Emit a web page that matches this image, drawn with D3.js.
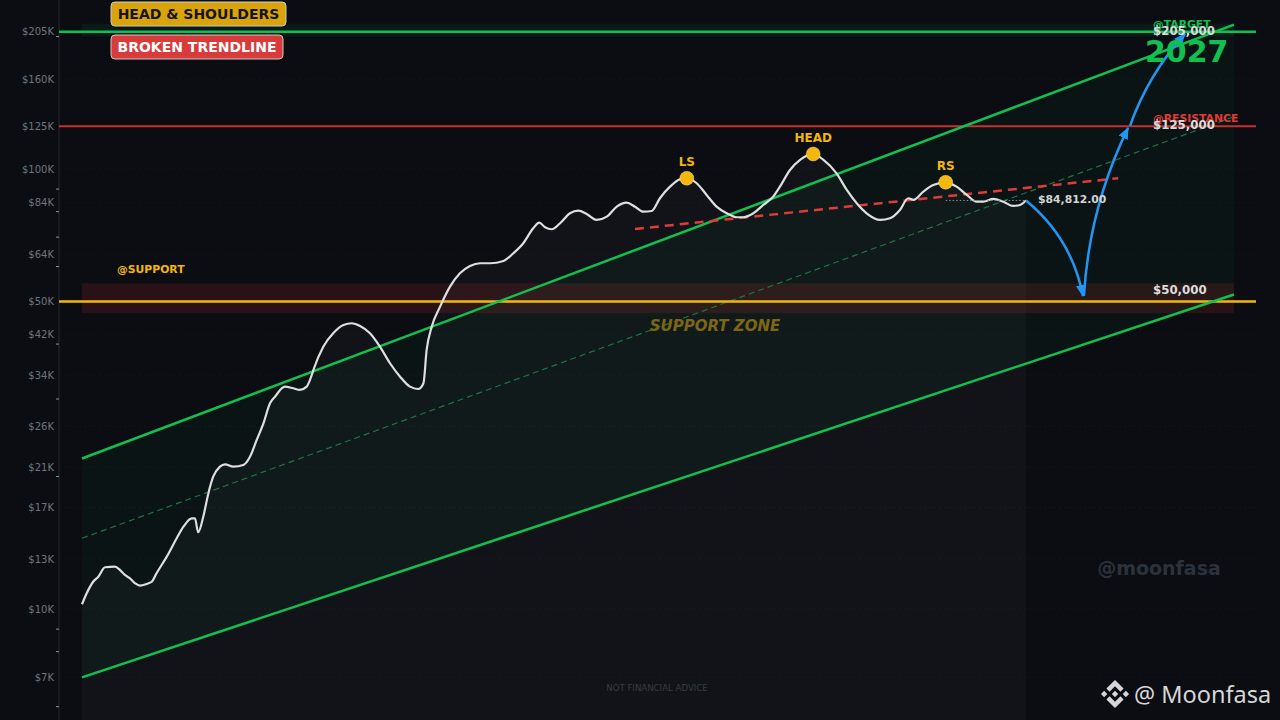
<!DOCTYPE html>
<html><head><meta charset="utf-8">
<script src="https://cdn.jsdelivr.net/npm/d3@7"></script>
<style>html,body{margin:0;padding:0;background:#0b0d12;overflow:hidden}svg{display:block}</style>
</head><body>
<svg id="chart" width="1280" height="720"></svg>
<script>
// ---------- data ----------
const weeks = [0,1.5,3.5,5.1,7.2,10.3,11.9,13.4,15,16.6,18.1,20.2,21.8,23.3,26.5,29.6,31.7,34.3,35.3,36.3,37.9,39.5,41,43.1,44.7,47.3,50.4,52.5,54.6,56.7,58.75,60.3,63.4,66,68.1,70.2,71.8,72.3,75.4,78.5,81.7,84.3,86.9,90,93.1,96.25,99.4,102.5,105.1,106.7,107.7,109.3,111.9,115,118.1,121.25,124.4,127.5,131.7,134.8,137.9,141,142.9,144.7,146.8,149.4,152.5,155.1,157.7,160.8,164,167.1,170.2,172.8,175.4,178,180.6,183.75,186.9,189,192.1,195.2,198.3,201.5,204.6,206.7,209.8,212.9,216,218.1,221.25,224.4,228.5,231.7,235.8,239,242.1,245.2,249.4,252.5,255.6,258.2,259.8,262.9,266,269.9,273.3,276.5,279.6,281.7,284.8,287.9,291,293.1,295];
const prices = [10250,10870,11530,11840,12440,12480,12260,11950,11740,11440,11300,11400,11530,12060,13150,14480,15380,16070,16070,14940,16210,18330,19980,21060,21320,21060,21250,22190,24220,26420,29340,30370,32010,31740,31460,32010,34020,34930,39460,42330,44200,44600,43980,42330,39460,36180,33720,32010,31620,32580,38780,43820,48650,54010,57940,60190,61050,61050,61790,64330,67790,73330,75500,73710,72940,75270,79310,80400,79020,76580,77910,82100,83830,82100,79970,80270,85790,91150,94760,95260,92800,87280,82100,79310,77670,77670,79310,82830,86510,91150,99480,104820,108170,104820,97770,89600,83570,79310,76580,77260,80690,85790,85030,88800,91970,93270,91150,87280,84270,84270,85470,84270,82400,82830,84812];
const lastPrice = 84812;

const yTickValues = [7000,10000,13000,17000,21000,26000,34000,42000,50000,64000,84000,100000,125000,160000,205000];
const yTickLabels = ["$7K","$10K","$13K","$17K","$21K","$26K","$34K","$42K","$50K","$64K","$84K","$100K","$125K","$160K","$205K"];

const channelWeeks = [0, 360];
const upperChannel = [21980, 212900];
const lowerChannel = [6990, 51850];
const midChannel = [14480, 131500];

const trendWeeks = [172.8, 323.8];
const trendPrices = [73050, 95260];

const patternLabels = ["LS", "HEAD", "RS"];
const patternWeeks = [189, 228.5, 269.9];
const patternPrices = [95260, 108170, 93270];

const arrowStartWeeks = [295, 313.1, 327.5];
const arrowStartPrices = [84812, 51440, 125300];
const arrowEndWeeks = [312.8, 326.9, 344.7];
const arrowEndPrices = [51440, 124000, 202700];

const levelValues = [205000, 125000, 50000];
const levelTags = ["@TARGET", "@RESISTANCE", ""];
const levelTexts = ["$205,000", "$125,000", "$50,000"];

const targetZone = [200000, 214000];
const supportZone = [47000, 55000];
const zoneWeeks = [0, 360];

// ---------- setup ----------
const W = 1280, H = 720;
const plotLeft = 59, plotRight = 1256;
const svg = d3.select("#chart");
const FONT = "DejaVu Sans, sans-serif";
const green = "#12c052", red = "#c8302f", gold = "#f3b70c", blue = "#2196f3";

const x = d3.scaleLinear().domain([0, 360]).range([82, 1234]);
const y = d3.scaleLog().domain([5594, 242100]).range([H, 0]);

svg.append("rect").attr("width", W).attr("height", H).attr("fill", "#0b0d12");

// area under price
const pts = weeks.map((w, i) => [w, prices[i]]);
svg.append("path")
  .attr("d", d3.area().x(d => x(d[0])).y0(H).y1(d => y(d[1])).curve(d3.curveMonotoneX)(pts))
  .attr("fill", "#ffffff").attr("fill-opacity", 0.026);

// channel fill
const chan = channelWeeks.map((w, i) => ({w, lo: lowerChannel[i], hi: upperChannel[i]}));
svg.append("path")
  .attr("d", d3.area().x(d => x(d.w)).y0(d => y(d.lo)).y1(d => y(d.hi))(chan))
  .attr("fill", green).attr("fill-opacity", 0.045);

// zones
[[targetZone, green, 0.07], [supportZone, "#d33232", 0.15]].forEach(([z, c, a]) => {
  svg.append("rect")
    .attr("x", x(zoneWeeks[0])).attr("width", x(zoneWeeks[1]) - x(zoneWeeks[0]))
    .attr("y", y(z[1])).attr("height", y(z[0]) - y(z[1]))
    .attr("fill", c).attr("fill-opacity", a);
});

// grid lines at major ticks
svg.append("g").selectAll("line").data(yTickValues).join("line")
  .attr("x1", plotLeft).attr("x2", plotRight)
  .attr("y1", d => y(d)).attr("y2", d => y(d))
  .attr("stroke", "#ffffff").attr("stroke-opacity", 0.035)
  .attr("stroke-dasharray", "2,3");

// y axis
const yAxis = d3.axisLeft(y).tickValues(yTickValues)
  .tickFormat((d, i) => yTickLabels[i]).tickSize(0).tickPadding(5);
const gy = svg.append("g").attr("transform", `translate(${plotLeft},0)`).call(yAxis);
gy.select(".domain").attr("stroke", "#252a32").attr("d", `M0,0V${H}`);
gy.selectAll("text").attr("fill", "#6e7580").attr("font-family", FONT).attr("font-size", 10);
// minor ticks
const minor = y.ticks(30).filter(v => !yTickValues.some(t => Math.abs(t - v) < 1));
svg.append("g").selectAll("line").data(minor).join("line")
  .attr("x1", plotLeft - 3).attr("x2", plotLeft)
  .attr("y1", d => y(d)).attr("y2", d => y(d))
  .attr("stroke", "#8a919b").attr("stroke-width", 1);

// middle dashed channel line
svg.append("line")
  .attr("x1", x(channelWeeks[0])).attr("x2", x(channelWeeks[1]))
  .attr("y1", y(midChannel[0])).attr("y2", y(midChannel[1]))
  .attr("stroke", "#1f7340").attr("stroke-width", 1.2).attr("stroke-dasharray", "6,4");

// level lines
const levelColors = [green, red, gold];
const levelWidths = [2.5, 2, 2.5];
levelValues.forEach((v, i) => {
  svg.append("line").attr("x1", plotLeft).attr("x2", plotRight)
    .attr("y1", y(v)).attr("y2", y(v))
    .attr("stroke", levelColors[i]).attr("stroke-width", levelWidths[i]);
});

// channel lines
[upperChannel, lowerChannel].forEach(arr => {
  svg.append("line")
    .attr("x1", x(channelWeeks[0])).attr("x2", x(channelWeeks[1]))
    .attr("y1", y(arr[0])).attr("y2", y(arr[1]))
    .attr("stroke", green).attr("stroke-width", 2.5);
});

// broken trendline
svg.append("line")
  .attr("x1", x(trendWeeks[0])).attr("x2", x(trendWeeks[1]))
  .attr("y1", y(trendPrices[0])).attr("y2", y(trendPrices[1]))
  .attr("stroke", "#e03a3a").attr("stroke-width", 2.5).attr("stroke-dasharray", "9,6");

// price line
svg.append("path")
  .attr("d", d3.line().x(d => x(d[0])).y(d => y(d[1])).curve(d3.curveMonotoneX)(pts))
  .attr("fill", "none").attr("stroke", "#dedede").attr("stroke-width", 2.2)
  .attr("stroke-linejoin", "round");

// dotted last price line
svg.append("line")
  .attr("x1", x(patternWeeks[2])).attr("x2", x(weeks[weeks.length - 1]))
  .attr("y1", y(lastPrice)).attr("y2", y(lastPrice))
  .attr("stroke", "#8a8f96").attr("stroke-width", 1).attr("stroke-dasharray", "1.5,2");

// pattern markers
patternLabels.forEach((lab, i) => {
  const cx = x(patternWeeks[i]), cy = y(patternPrices[i]);
  svg.append("circle").attr("cx", cx).attr("cy", cy).attr("r", 7)
    .attr("fill", "#f4b70b").attr("stroke", "#ffffff").attr("stroke-opacity", 0.4).attr("stroke-width", 0.8);
  svg.append("text").attr("x", cx).attr("y", cy - 12).attr("text-anchor", "middle")
    .attr("font-family", FONT).attr("font-weight", "bold").attr("font-size", 12)
    .attr("fill", gold).text(lab);
});

// arrows
const defs = svg.append("defs");
defs.append("marker").attr("id", "ah").attr("viewBox", "0 0 12 10")
  .attr("refX", 11).attr("refY", 5).attr("markerWidth", 12).attr("markerHeight", 10)
  .attr("markerUnits", "userSpaceOnUse").attr("orient", "auto")
  .append("path").attr("d", "M0,0L12,5L0,10z").attr("fill", blue);
const rad = 0.18;
arrowStartWeeks.forEach((w, i) => {
  const x1 = x(w), y1 = y(arrowStartPrices[i]);
  const x2 = x(arrowEndWeeks[i]), y2 = y(arrowEndPrices[i]);
  const dx = x2 - x1, dy = y2 - y1;
  const r = i === 0 ? rad : 0.1;
  const cx = (x1 + x2) / 2 + r * dy, cy = (y1 + y2) / 2 - r * dx;
  svg.append("path").attr("d", `M${x1},${y1}Q${cx},${cy} ${x2},${y2}`)
    .attr("fill", "none").attr("stroke", blue).attr("stroke-width", 2.5)
    .attr("marker-end", "url(#ah)");
});

// level labels (tag drawn beneath the value, as in the original)
const tagColors = [green, "#e53935", gold];
levelValues.forEach((v, i) => {
  if (levelTags[i]) {
    svg.append("text").attr("x", 1153).attr("y", y(v) - 4)
      .attr("font-family", FONT).attr("font-weight", "bold").attr("font-size", 10.8)
      .attr("fill", tagColors[i]).text(levelTags[i]);
  }
  svg.append("text").attr("x", 1153).attr("y", y(v) + (i === 2 ? -7 : 3))
    .attr("font-family", FONT).attr("font-weight", "bold").attr("font-size", 11.8)
    .attr("fill", "#dcdcdc").text(levelTexts[i]);
});
svg.append("text").attr("x", 1145).attr("y", y(levelValues[0]) + 30)
  .attr("font-family", FONT).attr("font-weight", "bold").attr("font-size", 30)
  .attr("fill", green).text("2027");

svg.append("text").attr("x", 1038).attr("y", y(lastPrice) + 3)
  .attr("font-family", FONT).attr("font-weight", "bold").attr("font-size", 10.8)
  .attr("fill", "#d4d4d4").text("$84,812.00");

svg.append("text").attr("x", 117).attr("y", y(supportZone[1]) - 10)
  .attr("font-family", FONT).attr("font-weight", "bold").attr("font-size", 10.8)
  .attr("fill", gold).text("@SUPPORT");

svg.append("text").attr("x", 715).attr("y", y(supportZone[0]) + 18).attr("text-anchor", "middle")
  .attr("font-family", FONT).attr("font-weight", "bold").attr("font-style", "italic").attr("font-size", 15)
  .attr("fill", "#7d6714").text("SUPPORT ZONE");

svg.append("text").attr("x", 1159).attr("y", 575).attr("text-anchor", "middle")
  .attr("font-family", FONT).attr("font-weight", "bold").attr("font-size", 19)
  .attr("fill", "#2b323b").text("@moonfasa");

svg.append("text").attr("x", 657).attr("y", 691).attr("text-anchor", "middle")
  .attr("font-family", FONT).attr("font-size", 8.6)
  .attr("fill", "#363c45").text("NOT FINANCIAL ADVICE");

// badges
const badges = [["HEAD & SHOULDERS", "#d9a30c", "#151515", 2, 175], ["BROKEN TRENDLINE", "#d93a3a", "#ffffff", 35, 172]];
badges.forEach(([t, bg, fg, top, w]) => {
  svg.append("rect").attr("x", 111).attr("y", top).attr("width", w).attr("height", 24).attr("rx", 4)
    .attr("fill", bg).attr("stroke", "#c9c9c9").attr("stroke-width", 1);
  svg.append("text").attr("x", 111 + w / 2).attr("y", top + 17).attr("text-anchor", "middle")
    .attr("font-family", FONT).attr("font-weight", "bold").attr("font-size", 14)
    .attr("fill", fg).text(t);
});

// watermark with Binance-like logo
const wm = svg.append("g");
wm.append("path")
  .attr("d", "M38.73 53.2l24.59-24.58 24.6 24.6 14.3-14.31L63.32 0 24.42 38.9l14.31 14.3zM0 63.31l14.3-14.31 14.31 14.31-14.31 14.3zM38.73 73.41l24.59 24.59 24.6-24.6 14.31 14.29-38.9 38.91-38.91-38.88-.02-.02 14.33-14.29zM98.28 63.31l14.3-14.31 14.31 14.3-14.31 14.32zM77.83 63.3L63.32 48.78 52.59 59.51l-1.24 1.23-2.54 2.54-.02.02.02.03 14.51 14.5 14.51-14.52.01-.01-.01-.01z")
  .attr("transform", "translate(1101,680) scale(0.221)")
  .attr("fill", "#d6d6d6");
wm.append("text").attr("x", 1134).attr("y", 703)
  .attr("font-family", "Noto Sans, sans-serif").attr("font-size", 23.5)
  .attr("fill", "#d6d6d6").text("@ Moonfasa");
</script>
</body></html>
